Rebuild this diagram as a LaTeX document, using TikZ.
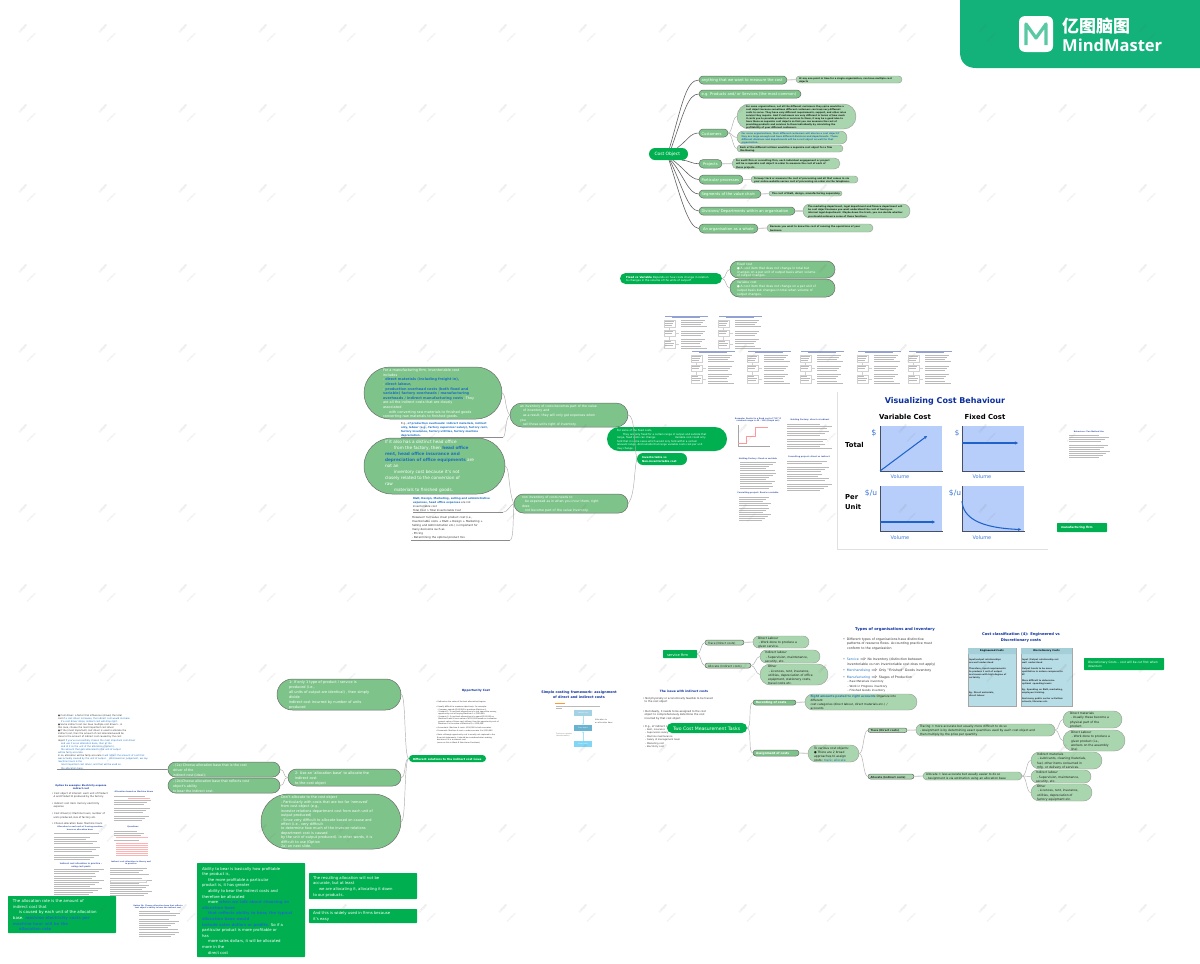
\documentclass[tikz,border=0pt]{standalone}
\usepackage{fontspec}
\setmainfont{DejaVu Sans}
\newfontfamily\cjk{Noto Sans CJK SC}
\newfontfamily\opsans{Open Sans}
\usetikzlibrary{arrows.meta}
\definecolor{root}{HTML}{00B050}
\definecolor{midg}{HTML}{7EC48A}
\definecolor{lightg}{HTML}{A9D6AE}
\definecolor{edgeg}{HTML}{6B6B6B}
\definecolor{edgel}{HTML}{9A9F9A}
\definecolor{bluet}{HTML}{1B6FC2}
\definecolor{navy}{HTML}{0B2F9E}
\definecolor{logog}{HTML}{13B27B}
\definecolor{plotb}{HTML}{B7CEFB}
\definecolor{plotl}{HTML}{1F62C8}
\definecolor{plott}{HTML}{3C78D8}
\definecolor{tabl}{HTML}{B7DDE6}
\definecolor{tabh}{HTML}{A4CFD9}
\newcommand\bl[1]{\textcolor{bluet}{#1}}
\newcommand\fs[2]{\fontsize{#1pt}{#2pt}\selectfont}
\newcommand\II{\hspace*{3pt}}
\makeatletter
% style, name, (x1,y1)(x2,y2), text x, font, text
\def\mnode#1#2(#3,#4)(#5,#6)#7#8#9{%
  \pgfmathsetmacro\mW{#5-#3}\pgfmathsetmacro\mH{#6-#4}%
  \pgfmathsetmacro\mR{\mH/2-0.01}\pgfmathsetmacro\mL{#7-#3}%
  \node[#1,minimum width=\mW pt,minimum height=\mH pt,inner sep=0pt,pillr=\mR] (#2) at ({(#3+#5)/2},{(#4+#6)/2})
   {\smash{\makebox[\mW pt][l]{\hspace*{\mL pt}\raisebox{-3.2pt}{\parbox[c]{600pt}{\raggedright #8 #9}}}}};}
\makeatother
\tikzset{
 x=1pt,y=-1pt,
 pillr/.style={},
 rootp/.style={fill=root,draw=none,text=white,pillr/.style={rounded corners=##1 pt}},
 rootr/.style={fill=root,draw=none,text=white,rounded corners=0.6pt},
 midp/.style={fill=midg,draw=edgeg,line width=.5pt,text=white,pillr/.style={rounded corners=##1 pt}},
 lightp/.style={fill=lightg,draw=edgel,line width=.45pt,text=black!90,pillr/.style={rounded corners=##1 pt}},
 lightd/.style={fill=lightg,draw=edgeg,line width=.5pt,text=black!85,pillr/.style={rounded corners=##1 pt}},
 plain/.style={text=black!80},
 conn/.style={draw=black!32,line width=.45pt},
 connd/.style={draw=black!62,line width=.6pt},
 link/.style={draw=black!18,line width=1.1pt},
 under/.style={draw=black!45,line width=.4pt},
 plot/.style={fill=plotb,draw=none},
 curve/.style={draw=plotl,line width=1.05pt,-{Stealth[length=3pt,width=3pt]}},
 tbar/.style={draw=black!27,line width=.32pt},
 tred/.style={draw=red!30,line width=.32pt},
 tbart/.style={draw=navy!45,line width=.5pt},
 tbox/.style={draw=black!18,line width=.25pt},
 wm/.style={rotate=45,text=black!60,opacity=.25,inner sep=0pt,align=center},
}
\newcommand\cc[3]{\draw[conn] (#1) .. controls +(#3,0) and +(-#3,0) .. (#2);}
\newcommand\lns[3]{\foreach \yy in {#3}{\pgfmathsetmacro\ee{#2-mod(\yy*7,11)/33*(#2-#1)}\draw[tbar] (#1,\yy)--(\ee,\yy);}}
\newcommand\thumb[2]{\begin{scope}[shift={(#1,#2)}]
 \draw[tbart] (1,0.8)--(44,0.8) (8,2.5)--(36,2.5);
 \draw[tbox] (0,5) rectangle (11,12) (0,15) rectangle (11,21) (0,25) rectangle (11,33);
 \lns{1}{10}{6.5,8.5,10.5,16.5,18.5,26.5,28.5,30.5}
 \draw[tbox] (5.5,12)--(5.5,15) (5.5,21)--(5.5,25) (11,18)--(15,18) (11,29)--(15,29);
 \lns{17}{43}{5,7,9,11,16,18,20,24,26,28,31,33}
 \end{scope}}
\begin{document}
\begin{tikzpicture}
\useasboundingbox (0,0) rectangle (1200,964);
\fill[white] (0,0) rectangle (1200,964);

% ---- Logo
\fill[logog] (960,0) -- (1200,0) -- (1200,68) -- (976,68) .. controls (966,68) and (960,62) .. (960,52) -- cycle;
\fill[white] (1019,22) .. controls (1019,18) and (1022,16) .. (1026,16) -- (1046,16) .. controls (1050,16) and (1053,18) .. (1053,22) -- (1053,46) .. controls (1053,50) and (1050,52) .. (1046,52) -- (1026,52) .. controls (1022,52) and (1019,50) .. (1019,46) -- cycle;
\draw[logog!70!white,line width=3.2pt,line join=round] (1026,45) -- (1026,24) -- (1036,38) -- (1046,24) -- (1046,45);
\node[text=white,anchor=west,inner sep=0pt,font=\cjk\bfseries\fontsize{17}{17}\selectfont] (lgcn) at (1062,26) {亿图脑图};
\node[text=white,anchor=west,inner sep=0pt,font=\opsans\bfseries\fontsize{16.5}{18}\selectfont] (lgen) at (1062,45) {MindMaster};

% ---- Cost Object
\mnode{rootp}{co}(649,148)(688,160){654.5}{\fs{4.4}{5}}{Cost Object}
\mnode{midp}{c1}(699,76)(787,84){701.5}{\fs{3.75}{4}}{anything that we want to measure the cost}
\mnode{midp}{c2}(699,90)(801,98){701.5}{\fs{3.75}{4}}{e.g. Products and/ or Services (the most common)}
\mnode{midp}{c3}(699,129)(728,137){701.5}{\fs{3.75}{4}}{Customers}
\mnode{midp}{c4}(699,159.5)(722,168){703}{\fs{3.75}{4}}{Projects}
\mnode{midp}{c5}(699,175)(743,184){701.5}{\fs{3.75}{4}}{Particular processes}
\mnode{midp}{c6}(699,190)(761,198){701.5}{\fs{3.75}{4}}{Segments of the value chain}
\mnode{midp}{c7}(699,207)(795,215){701.5}{\fs{3.75}{4}}{Divisions/ Departments within an organisation}
\mnode{midp}{c8}(699,224)(758,233){703}{\fs{3.75}{4}}{An organisation as a whole}

\mnode{lightp}{d1}(796,76)(902,83){799}{\fs{2.25}{3}}{\textbf{At any one point in time for a single organisation, can have multiple cost\\objects}}
\mnode{lightp}{d2}(737,104)(856,129){746}{\fs{2.22}{2.95}}{\textbf{For some organisations, not all the different customers they serve would be a\\cost object because sometimes different customers can have very different\\costs to serve. They have very different requirements, support, and other roles\\service they require. And if customers are very different in terms of how much\\it costs you to provide products or services to them, it may be a good idea to\\have those as separate cost objects so that you can measure the cost of\\providing products and services to them individually by calculating the\\profitability of your different customers.}}
\mnode{lightp}{d3}(737,131)(847,144){741.5}{\fs{2.25}{3}}{\bl{\textbf{For some organisations, their different customers will also be a cost object if\\they are large enough and have different divisions and departments. These\\different divisions and departments will be a cost object as well for that\\organisation.}}}
\mnode{lightp}{d4}(737,145)(843,152){740}{\fs{2.3}{3.4}}{\textbf{Each of the different airlines would be a separate cost object for a firm\\like Boeing.}}
\mnode{lightp}{d5}(732,158)(840,169){736}{\fs{2.3}{3.3}}{\textbf{For audit firm or consulting firm, each individual engagement or project\\will be a separate cost object in order to measure the cost of each of\\those projects.}}
\mnode{lightp}{d6}(751,176)(858,183){754}{\fs{2.3}{3.2}}{\textbf{To keep track or measure the cost of processing and all that comes in via\\your online website versus cost of processing an order via the telephone.}}
\mnode{lightp}{d7}(769,191)(842,196){772}{\fs{2.35}{3}}{\textbf{The cost of R\&D, design, manufacturing separately.}}
\mnode{lightp}{d8}(803,204)(910,218){808}{\fs{2.25}{3.2}}{\textbf{The marketing department, legal department and finance department will\\be cost object because you want understand the cost of having an\\internal legal department. Maybe down the track, you can decide whether\\you should outsource some of these functions.}}
\mnode{lightp}{d9}(767,224)(873,232){770}{\fs{2.3}{3.2}}{\textbf{Because you want to know the cost of running the operations of your\\business.}}

\draw[connd] (co.80) .. controls (682,105) and (686,80) .. (c1.west);
\draw[connd] (co.65) .. controls (684,112) and (688,94) .. (c2.west);
\draw[connd] (co.35) .. controls (688,140) and (690,133) .. (c3.west);
\draw[connd] (co.-25) .. controls (688,160) and (692,164) .. (c4.west);
\draw[connd] (co.-55) .. controls (686,170) and (690,179) .. (c5.west);
\draw[connd] (co.-70) .. controls (684,175) and (688,194) .. (c6.west);
\draw[connd] (co.-78) .. controls (682,185) and (688,211) .. (c7.west);
\draw[connd] (co.-85) .. controls (680,195) and (688,228) .. (c8.west);
\draw[link] (c1.east) -- (d1.west);
\draw[link] (c4.east) -- (d5.west);
\draw[link] (c5.east) -- (d6.west);
\draw[link] (c6.east) -- (d7.west);
\draw[link] (c7.east) -- (d8.west);
\draw[link] (c8.east) -- (d9.west);
\cc{c3.east}{d2.west}{4}
\cc{c3.east}{d3.west}{4}
\cc{c3.east}{d4.west}{4}

% ---- Fixed vs variable
\mnode{rootp}{fv}(620,273)(722,284){626}{\fs{2.7}{3.7}}{\textbf{Fixed vs Variable} Depends on how costs change in relation\\to changes in the volume of the units of output?}
\mnode{midp}{fc}(730,261)(835,278){737}{\fs{3.05}{3.95}}{Fixed cost\\\textbf{●} A cost item that does not change in total but\\changes on a per unit of output basis when volume\\of output changes.}
\mnode{midp}{vc}(730,279)(835,297){737}{\fs{3.05}{3.95}}{Variable cost\\\textbf{●} A cost item that does not change on a per unit of\\output basis but changes in total when volume of\\output changes.}
\cc{fv.east}{fc.west}{4}
\cc{fv.east}{vc.west}{4}

% ---- thumbnails
\thumb{664}{315}\thumb{718}{315}\thumb{691}{350}\thumb{747}{350}\thumb{800}{350}\thumb{857}{350}\thumb{908}{350}

% ---- Inventoriable
\mnode{midp}{ia}(364,367)(502,419){383}{\fs{3.45}{4.6}}{For a manufacturing firm, inventoriable cost\\includes\\- \bl{\textbf{direct materials (including freight in),}}\\- \bl{\textbf{direct labour,}}\\- \bl{\textbf{production overhead costs (both fixed and\\variable) factory overheads / manufacturing\\overheads / indirect manufacturing costs}}. They\\are all the indirect costs that are closely\\associated\\\II\II with converting raw materials to finished goods\\converting raw materials to finished goods.}
\mnode{plain}{ie}(401,421)(503,437){401}{\fs{2.65}{4}}{E.g., \bl{\textbf{of production overheads: indirect materials, indirect\\only, labour (e.g., factory supervisor salary), factory rent,\\factory insurance, factory utilities, factory machine\\depreciation.}}}
\draw[under] (ie.south west) -- (ie.south east);
\mnode{midp}{ib}(364,438)(505,494){385}{\fs{4.25}{6}}{If it also has a distinct head office\\\II\II\II from the factory, then \bl{\textbf{head office\\rent, head office insurance and\\depreciation of office equipments}} are\\not an\\\II\II\II inventory cost because it's not\\closely related to the conversion of\\raw\\\II\II\II materials to finished goods.}
\mnode{plain}{ir}(413,496)(503,512){413}{\fs{2.65}{4}}{\bl{\textbf{R\&D, Design, Marketing, selling and administrative\\expenses, head office expenses}} are not\\inventoriable cost\\Total Cost > Total Inventoriable Cost}
\draw[under] (ir.south west) -- (ir.south east);
\mnode{plain}{ih}(411,514)(510,540){412}{\fs{2.75}{4.1}}{However! full value chain product cost (i.e.,\\Inventoriable costs + R\&D + Design + Marketing +\\Selling and Administration etc.) is important for\\many decisions such as\\- Pricing\\- Determining the optimal product mix}
\draw[under] (ih.south west) -- (ih.south east);
\mnode{midp}{ic}(510,403)(628,427){520}{\fs{3.2}{4.6}}{an inventory of costs becomes part of the value\\\II of inventory and\\\II as a result, they will only get expenses when\\you\\\II sell those units right of inventory.}
\mnode{midp}{id}(514,494)(628,513){522}{\fs{3.2}{4.6}}{non inventory of costs needs to\\\II be expensed as in when you incur them, right\\does\\\II not become part of the value inventory.}
\mnode{rootp}{ig}(607,427)(727,451){617}{\fs{2.55}{3.6}}{For some of the fixed costs,\\\II\II They are only fixed for a certain range of output and outside that\\range, fixed costs can change.\hspace{18pt} Variable cost could only\\hold that in some cases which would only hold within a certain\\relevant range. And outside that range variable costs cost per unit\\may change.}
\mnode{rootp}{ii}(637,453)(687,465){642}{\fs{2.7}{4}}{\textbf{Inventoriable vs\\Non-inventoriable cost}}
\draw[conn] (ii.west) .. controls (634,445) and (635,415) .. (ic.east);
\draw[conn] (ii.west) .. controls (634,470) and (635,495) .. (id.east);
\draw[conn] (ic.west) .. controls (505,410) and (506,394) .. (ia.east);
\draw[conn] (ic.west) .. controls (505,418) and (506,437) .. (ie.south east);
\draw[conn] (id.west) .. controls (508,490) and (510,468) .. (ib.east);
\draw[conn] (id.west) .. controls (510,505) and (508,512) .. (ir.south east);
\draw[conn] (id.west) .. controls (513,510) and (514,540) .. (ih.south east);

% ---- Slides around chart
\node[text=navy!80,font=\bfseries\fs{2}{2.6},align=center,inner sep=0pt] (s1t) at (758,420) {Example: Rental is a fixed cost of "50" if\\relevant range is 40 -- 100 (Graph set)};
\draw[black!35,line width=.25pt] (738,425) -- (738,446) -- (770,446);
\draw[red!40,line width=.3pt] (738,443) -- (746,443) -- (746,436) -- (755,436) -- (755,427) -- (768,427);
\node[text=navy!80,font=\bfseries\fs{2}{2.6},inner sep=0pt] (s2t) at (810,420) {Holding Factory: direct vs indirect};
\node[text=navy!80,font=\bfseries\fs{2}{2.6},inner sep=0pt] (s3t) at (758,459) {Holding Factory: fixed vs variable};
\node[text=navy!80,font=\bfseries\fs{2}{2.6},inner sep=0pt] (s4t) at (809,457) {Consulting project: direct vs indirect};
\node[text=navy!80,font=\bfseries\fs{2}{2.6},inner sep=0pt] (s5t) at (758,493) {Consulting project: fixed vs variable};
\lns{787}{833}{424,426,428,431,433,435,439,441,444,446,448}
\lns{740}{776}{462,464,466,468,470,473,475,477,479,481,483,486,488}
\lns{787}{832}{461,463,467,469,471,474,476,478,480,484,486,488,490}
\lns{739}{772}{497,499,501,503,505,508,510,512,514,516,518,520}

% ---- Chart
\draw[black!12,line width=1pt] (837,392) -- (837,549) -- (1048,549);
\node[text=navy,font=\bfseries\fs{8}{8.5},inner sep=0pt] (vt) at (945,401) {Visualizing Cost Behaviour};
\node[font=\bfseries\fs{6.9}{7.5},inner sep=0pt] (vch) at (905,417) {Variable Cost};
\node[font=\bfseries\fs{6.9}{7.5},inner sep=0pt] (fch) at (985,417) {Fixed Cost};
\node[font=\bfseries\fs{6.8}{7.5},inner sep=0pt,anchor=west] (rt) at (845,445) {Total};
\node[font=\bfseries\fs{6.8}{10.3},inner sep=0pt,anchor=west,align=left] (ru) at (845,502) {Per\\Unit};
\fill[plot] (880,426) rectangle (942,471);
\fill[plot] (962,426) rectangle (1024,471);
\fill[plot] (880,486) rectangle (942,532);
\fill[plot] (962,486) rectangle (1024,532);
\foreach \xx/\yy in {880/426,962/426,880/486,962/486}{
 \draw[black!35!plotb!60!black,line width=.6pt] (\xx,\yy) -- (\xx,\yy+45.5) -- (\xx+63,\yy+45.5);}
\draw[curve] (880,471) -- (927,436);
\draw[curve] (962,443) -- (1018,443);
\draw[curve] (880,522) -- (935,522);
\draw[curve] (962,501) .. controls (963,518) and (980,528) .. (1021,529.5);
\node[text=plott,font=\fs{8}{9},inner sep=0pt] (la) at (874,433) {\$};
\node[text=plott,font=\fs{7}{8},inner sep=0pt] (lb) at (957,433) {\$};
\node[text=plott,font=\fs{7.5}{8},inner sep=0pt] (lc) at (871,493) {\$/u};
\node[text=plott,font=\fs{7.5}{8},inner sep=0pt] (ld) at (955,493) {\$/u};
\node[text=plott,font=\fs{5}{6},inner sep=0pt] (v1) at (900,477) {Volume};
\node[text=plott,font=\fs{5}{6},inner sep=0pt] (v2) at (982,477) {Volume};
\node[text=plott,font=\fs{5}{6},inner sep=0pt] (v3) at (900,538) {Volume};
\node[text=plott,font=\fs{5}{6},inner sep=0pt] (v4) at (982,538) {Volume};
% method slide
\node[text=navy!80,font=\bfseries\fs{1.9}{2.4},inner sep=0pt] (mt) at (1089,432) {Behaviour: Two Method Use};
\lns{1069}{1110}{435,437,439,441,445,447,449,451,453,455,457}
\mnode{rootr}{mf}(1057,523)(1107,532){1061}{\fs{2.9}{3.5}}{\textbf{manufacturing firm}}

% ---- Service firm
\mnode{rootr}{sf}(663,650)(697,658){667}{\fs{3.6}{4}}{service firm}
\mnode{lightd}{st}(705,640)(744,645){708}{\fs{2.85}{3.5}}{Trace (Direct costs)}
\mnode{lightd}{sa}(705,663)(751,668){708}{\fs{2.85}{3.5}}{Allocate (Indirect costs)}
\mnode{lightp}{s1}(753,636)(809,648){758}{\fs{3}{4.1}}{Direct Labour\\\ - Work done to produce a\\given service.}
\mnode{lightp}{s2}(760,650)(820,663){765}{\fs{3}{4.2}}{Indirect labour\\\ - Supervision, maintenance,\\security, etc.}
\mnode{lightp}{s3}(760,664)(828,685){768}{\fs{3}{4.2}}{Other\\\ - Licences, rent, insurance,\\utilities, depreciation of office\\equipment, stationery costs,\\travel costs etc.}
\cc{sf.east}{st.west}{4}
\cc{sf.east}{sa.west}{4}
\draw[link] (st.east) -- (s1.west);
\cc{sa.east}{s2.west}{4}
\cc{sa.east}{s3.west}{4}

% ---- Types of organisations slide
\node[text=navy,font=\bfseries\fs{3.8}{4.5},inner sep=0pt] (ot) at (895,629) {Types of organisations and inventory};
\mnode{plain}{ob}(843,636)(940,693){843}{\fs{3.2}{4.3}}{•\ \ Different types of organisations have distinctive\\\ \ \ \ patterns of resource flows. Accounting practice must\\\ \ \ \ conform to the organization\\[7.4pt]•\ \ \bl{Service} $\Rightarrow$ No Inventory (distinction between\\\ \ \ \ inventoriable vs non inventoriable cost does not apply)\\[2.2pt]•\ \ \bl{Merchandising} $\Rightarrow$ Only "Finished" Goods inventory\\[2.2pt]•\ \ \bl{Manufacturing} $\Rightarrow$ Stages of Production\\\fs{2.8}{4.5}\ \ \ \ \ -- Raw Materials inventory\\\ \ \ \ \ -- Work in Progress inventory\\\ \ \ \ \ -- Finished Goods inventory}

% ---- Issue slide
\node[text=navy,font=\bfseries\fs{3}{4},inner sep=0pt] (ist) at (684,691) {The issue with indirect costs};
\mnode{plain}{isb}(643,696)(722,748){643}{\fs{2.6}{3.6}}{•\ Not physically or economically feasible to be traced\\\ \ to the cost object\\[5.6pt]•\ But ideally, it needs to be assigned to the cost\\\ \ object to comprehensively determine the cost\\\ \ incurred by that cost object\\[4.2pt]•\ E.g., of indirect costs\\\fs{2.3}{3.4}\ \ \ -- Rent, insurance\\\ \ \ -- Supervisors salary\\\ \ \ -- Machine maintenance\\\ \ \ -- Salary of management team\\\ \ \ -- Marketing cost\\\ \ \ -- Electricity cost}

% ---- Two cost
\mnode{rootp}{tc}(667,723)(747,733){673}{\fs{4.6}{5}}{Two Cost Measurement Tasks}
\mnode{midp}{rc}(753,700)(796,705){756}{\fs{2.9}{3.5}}{\textbf{Recording of costs}}
\mnode{midp}{ac}(753,750)(799,756){756}{\fs{2.9}{3.5}}{\textbf{Assignment of costs}}
\mnode{lightp}{ra}(805,694)(917,710){810.5}{\fs{2.9}{4.1}}{\bl{\textbf{Right amounts posted to right accounts}} Organize into\\different\\cost categories (direct labour, direct materials etc.) /\\accounts}
\mnode{lightp}{tv}(808,745)(859,762){814}{\fs{3}{4.1}}{To various cost objects:\\● There are 2 broad\\approaches to assign\\costs: \bl{trace; allocate}}
\mnode{lightd}{t2}(868,728)(907,732.5){870.5}{\fs{2.6}{3.5}}{\textbf{Trace (Direct costs)}}
\mnode{lightd}{a2}(868,774)(914,779){870.5}{\fs{2.6}{3.5}}{\textbf{Allocate (Indirect costs)}}
\mnode{lightp}{tr}(916,724)(1055,736){920}{\fs{2.95}{4}}{Tracing = more accurate but usually more difficult to do so\\- Assignment is by determining exact quantities used by each cost object and\\then multiply by the price per quantity}
\mnode{lightp}{al}(923,772)(1022,780){926}{\fs{2.9}{4}}{Allocate = less accurate but usually easier to do so\\- Assignment is via estimation using an allocation base}
\mnode{lightp}{dm}(1063,711)(1122,728){1070}{\fs{3}{4.2}}{Direct materials\\\ - Usually these become a\\physical part of the\\product.}
\mnode{lightp}{dl}(1063,730)(1125,751){1071}{\fs{3}{4.2}}{Direct Labour\\\ - Work done to produce a\\given product (i.e.,\\workers on the assembly\\line)}
\mnode{lightp}{im}(1031,752)(1102,769){1037}{\fs{3}{4.2}}{Indirect materials\\\ - Lubricants, cleaning materials,\\fuel, other items consumed in\\mfg. or delivery of services.}
\mnode{lightp}{il}(1031,770)(1091,783){1036}{\fs{3}{4.2}}{Indirect labour\\\ - Supervision, maintenance,\\security, etc.}
\mnode{lightp}{ot2}(1031,784)(1092,801){1037}{\fs{3}{4.2}}{Other\\\ - Licences, rent, insurance,\\utilities, depreciation of\\factory equipment etc.}
\cc{tc.east}{rc.west}{5}
\cc{tc.east}{ac.west}{5}
\draw[link] (rc.east) -- (ra.west);
\draw[link] (ac.east) -- (tv.west);
\cc{tv.east}{t2.west}{4.5}
\cc{tv.east}{a2.west}{4.5}
\draw[link] (t2.east) -- (tr.west);
\draw[link] (a2.east) -- (al.west);
\cc{tr.east}{dm.west}{4}
\cc{tr.east}{dl.west}{4}
\cc{al.east}{im.west}{4.5}
\cc{al.east}{il.west}{4.5}
\cc{al.east}{ot2.west}{4.5}

% ---- Classification slide
\node[text=navy,font=\bfseries\fs{3.7}{5.2},align=center,inner sep=0pt] (cl) at (1021,637.5) {Cost classification (4): Engineered vs\\Discretionary costs};
\draw[fill=tabl,draw=black!35,line width=.4pt] (968,648) rectangle (1016,706);
\draw[fill=tabl,draw=black!35,line width=.4pt] (1021,648) rectangle (1072,706);
\fill[tabh] (968,648) rectangle (1016,654) (1021,648) rectangle (1072,654);
\node[font=\bfseries\fs{2.4}{3},inner sep=0pt] (eh) at (992,651) {Engineered Costs};
\node[font=\bfseries\fs{2.4}{3},inner sep=0pt] (dh) at (1046.5,651) {Discretionary Costs};
\mnode{plain}{eb}(969,656)(1016,697){969}{\fs{2.15}{3}\bfseries}{Input/output relationships\\are well understood\\[3pt]Therefore, input requirements\\to produce 1 unit of output\\are known with high degree of\\certainty\\[12pt]Eg. Direct materials,\\direct labour}
\mnode{plain}{db}(1022,656)(1072,705){1022}{\fs{2.15}{3}\bfseries}{Input /Output relationship not\\well\ \ understood\\[3pt]Output tends to be more\\qualitative in nature compared to\\EC\\[3pt]More difficult to determine\\optimal\ \ spending levels\\[3pt]Eg. Spending on R\&D, marketing,\\employee training.\\[3pt]And many public sector activities:\\schools, libraries etc.}
\mnode{rootr}{dc}(1084,658)(1164,670){1088}{\fs{2.95}{4.3}}{Discretionary Costs -- cost will be cut first when\\downturn}

% ---- Solutions
\mnode{rootp}{ds}(409,755)(486,762){413}{\fs{2.75}{3.5}}{\textbf{Different solutions to the indirect cost issue}}
\node[text=navy,font=\bfseries\fs{2.9}{3.5},inner sep=0pt] (ops) at (476,691) {Opportunity Cost};
\mnode{plain}{opb}(436,694)(505,749){436}{\fs{1.85}{2.45}}{•\ Defined as the value of the best alternative forgone\\[2.6pt]•\ Usually difficult to measure objectively. For example:\\\ \ -- Company spends \$100,000 to purchase Machine A.\\\ \ -- Scenario 1: If next best alternative is to just spend the money,\\\ \ \ \ opportunity cost of buying Machine A = \$100,000.\\\ \ -- Scenario 2: If next best alternative is to spend \$100,000 on\\\ \ \ \ Machine B which has a value of \$120,000 based on a valuation\\\ \ \ \ present value of future cash inflows, then the opportunity cost of\\\ \ \ \ Machine A is the value of Machine B = \$120,000.\\[1.8pt]•\ Accountant: Machine A costs: \$100,000 in both scenarios\\•\ Economist: Machine A cost = under scenario 2 is \$120,000\\[1.8pt]•\ Note: although opportunity cost is usually not captured in the\\\ \ financial statements, it should be considered when making\\\ \ decisions if it is a relevant cost\\\ \ (more on this in Week 8 Short-term Decisions)}

\mnode{midp}{p1}(277,679)(401,710){289}{\fs{3.55}{5}}{1: If only 1 type of product / service is\\produced (i.e.,\\all units of output are identical) , then simply\\divide\\indirect cost incurred by number of units\\produced}
\mnode{midp}{p2}(288,769)(401,786){295}{\fs{3.55}{5}}{2: Use an 'allocation base' to allocate the\\indirect cost\\to the cost object}
\mnode{midp}{p3}(261,794)(401,849){281}{\fs{3.5}{4.45}}{Don't allocate to the cost object\\- Particularly with costs that are too far 'removed'\\from cost object (e.g.,\\investor relations department cost from each unit of\\output produced)\\- Since very difficult to allocate based on cause and\\effect (i.e., very difficult\\to determine how much of the investor relations\\department cost is caused\\by the unit of output produced). In other words, it is\\difficult to use (Option\\2a) on next slide.}
\mnode{midp}{p4}(168,762)(280,777){173}{\fs{3.3}{4.9}}{- (2a) Choose allocation base that is the cost\\driver of the\\indirect cost (ideal);}
\mnode{midp}{p5}(168,778)(280,793){173}{\fs{3.3}{4.9}}{- (2b)Choose allocation base that reflects cost\\object's ability\\to bear the indirect cost.}
\cc{ds.west}{p1.east}{-5}
\cc{ds.west}{p2.east}{-5}
\cc{ds.west}{p3.east}{-5}
\cc{p2.west}{p4.east}{-5}
\cc{p2.west}{p5.east}{-5}

\mnode{plain}{cd}(57,713)(168,769){58}{\fs{2.3}{3.12}}{● Cost driver: a factor that influences (drives) the total\\cost \bl{if a cost driver increases, the indirect cost would increase}\\\II\bl{if a cost driver drops, indirect cost will drop right.}\\● Some indirect cost can have multiple cost drivers -- in\\this case, choose the most important cost driver\\● If the (most important) cost driver is used to allocate the\\indirect cost, then the amount of cost allocated would be\\close to the amount of indirect cost caused by the cost\\object \bl{if you've successfully chosen the most important cost driver}\\\II\bl{and use it as an allocation base, then at the}\\\II\bl{end of it so the unit of the allocation (system),}\\\II\bl{the amount that gets allocated to the unit of output}\\\bl{will be fairly accurate.}\\In so, allocation will be fairly accurate \bl{it will reflect the amount of cost that}\\\bl{was actually caused by the unit of output.\ \ \ \ And based on judgement, we say}\\\bl{machine hours is the}\\\II\bl{most important cost driver, and that will be used as}\\\II\bl{the allocation base.}}
\draw[under] (cd.south west) -- (cd.south east);
\draw[link] (cd.south east) -- (p4.west);

% ---- Left slides
\node[text=navy,font=\bfseries\fs{2.3}{3.2},align=center,inner sep=0pt] (l1) at (81,787) {Option 2a example: Electricity expense\\indirect cost};
\mnode{plain}{l1b}(52,791)(108,825){52}{\fs{2.45}{3.4}}{•\ Cost object of interest: each unit of Product\\\ \ A and Product B produced by the factory\\[3.4pt]•\ Indirect cost item: Factory electricity\\\ \ expense\\[3.4pt]•\ Cost driver(s): Machine hours, number of\\\ \ units produced, size of factory etc.\\[3.4pt]•\ Chosen allocation base: Machine hours}
\node[text=navy!80,font=\bfseries\fs{1.9}{2.7},align=center,inner sep=0pt] (l2) at (80,828) {Allocation to each unit of A using machine\\hours as allocation base};
\lns{54}{100}{833,837,839,841,843,847,849,851,855,857,859}
\node[text=navy!80,font=\bfseries\fs{1.95}{2.7},inner sep=0pt] (l3) at (134,792) {Allocation based on Machine Hours};
\lns{114}{152}{796,800,802,804,808,810,812,816,818,820}
\draw[tred] (128,798) -- (150,798);
\node[text=navy!80,font=\bfseries\fs{1.95}{2.7},inner sep=0pt] (l4) at (133,827) {Questions};
\lns{114}{145}{831,833,835,840}
\foreach \yy in {837,843,845,847,849,851,853,855} \draw[tred] (116,\yy) -- (148,\yy);
\node[text=navy!80,font=\bfseries\fs{2.1}{2.9},align=center,inner sep=0pt] (l5) at (81,865) {Indirect cost allocation in practice --\\using cost pools};
\lns{54}{104}{869,871,873,876,878,880,882,884,886,888,890,892,894}
\node[text=navy!80,font=\bfseries\fs{1.9}{2.6},align=center,inner sep=0pt] (l6) at (131,863) {Indirect cost allocation in theory and\\in practice};
\lns{110}{152}{868,870,872,874,878,880,883,885,887,889,891,893,895}
\draw[tbox] (110,880) rectangle (146,882.5);
\node[text=navy!80,font=\bfseries\fs{1.85}{2.4},align=center,inner sep=0pt] (l7) at (158,907) {Option 2b: Choose allocation base that reflects\\cost object's ability to bear the indirect cost};
\lns{139}{180}{911,913,915,919,921,923,925,927,929,932,934,936}

\mnode{rootr}{ar}(8,896)(116,933){13}{\fs{3.95}{5.67}}{The allocation rate is the amount of\\indirect cost that\\\II\II is caused by each unit of the allocation\\base. \textcolor{bluet}{\textbf{machine electricity costs per\\machine hour will be the\\\II\II allocation rate}}}
\mnode{rootr}{ab}(197,863)(305,957){202}{\fs{3.85}{5.6}}{Ability to bear is basically how profitable\\the product is,\\\II\II the more profitable a particular\\product is, it has greater\\\II\II ability to bear the indirect costs and\\therefore be allocated\\\II\II more \textcolor{bluet}{\textbf{when we talk about choosing an\\allocation base\\\II\II that reflects ability to bear, the typical\\allocation base would\\include sales dollars or profits.}} So if a\\particular product is more profitable or\\has\\\II\II more sales dollars, it will be allocated\\more in the\\\II\II direct cost}
\mnode{rootr}{re}(309,873)(417,899){313}{\fs{3.85}{5.6}}{The resulting allocation will not be\\accurate, but at least\\\II\II we are allocating it, allocating it down\\to our products.}
\mnode{rootr}{wu}(309,909)(417,923){313}{\fs{3.85}{5.6}}{And this is widely used in firms because\\it's easy}

% ---- Framework slide
\node[text=navy,font=\bfseries\fs{3.4}{4.8},align=center,inner sep=0pt] (sc) at (579,695) {Simple costing framework: assignment\\of direct and indirect costs};
\fill[orange!80] (555,703) rectangle (565,704.2);
\draw[tbar] (556,706) -- (600,706) (556,708) -- (562,708);
\node[fill=cyan!50!teal!40,minimum width=18pt,minimum height=6pt,inner sep=0pt,text=white,font=\fs{1.7}{2}] (ind) at (583,713) {Indirect cost};
\node[fill=cyan!50!teal!70,minimum width=18pt,minimum height=6pt,inner sep=0pt,text=white,font=\fs{1.7}{2}] (cob) at (583,728) {Cost object};
\node[fill=cyan!50!white,minimum width=18pt,minimum height=6pt,inner sep=0pt,text=white,font=\fs{1.7}{2}] (dir) at (583,744) {Direct cost};
\draw[cyan!35,line width=.7pt,-{Stealth[length=1.6pt,width=1.6pt]}] (ind) -- (cob);
\draw[cyan!35,line width=.7pt,-{Stealth[length=1.6pt,width=1.6pt]}] (dir) -- (cob);
\node[font=\fs{1.9}{2.8},anchor=west,inner sep=0pt,align=left,text=black!70] (sl1) at (595,721) {Allocation to\\an allocation base};
\node[font=\fs{1.6}{2.6},anchor=west,inner sep=0pt,align=left,text=black!55] (sl2) at (556,735) {Tracing to a product\\(documentation)};

% ---- Watermarks
\foreach \xi in {0,...,14}{\foreach \yi in {0,...,11}{
 \pgfmathsetmacro\wx{27+80*\xi}\pgfmathsetmacro\wy{33+80*\yi}
 \node[wm] (w\xi-\yi) at (\wx,\wy) {\cjk\fs{2.6}{3}亿图脑图\\\fs{2}{2.4}MindMaster};
}}
\end{tikzpicture}
\end{document}
